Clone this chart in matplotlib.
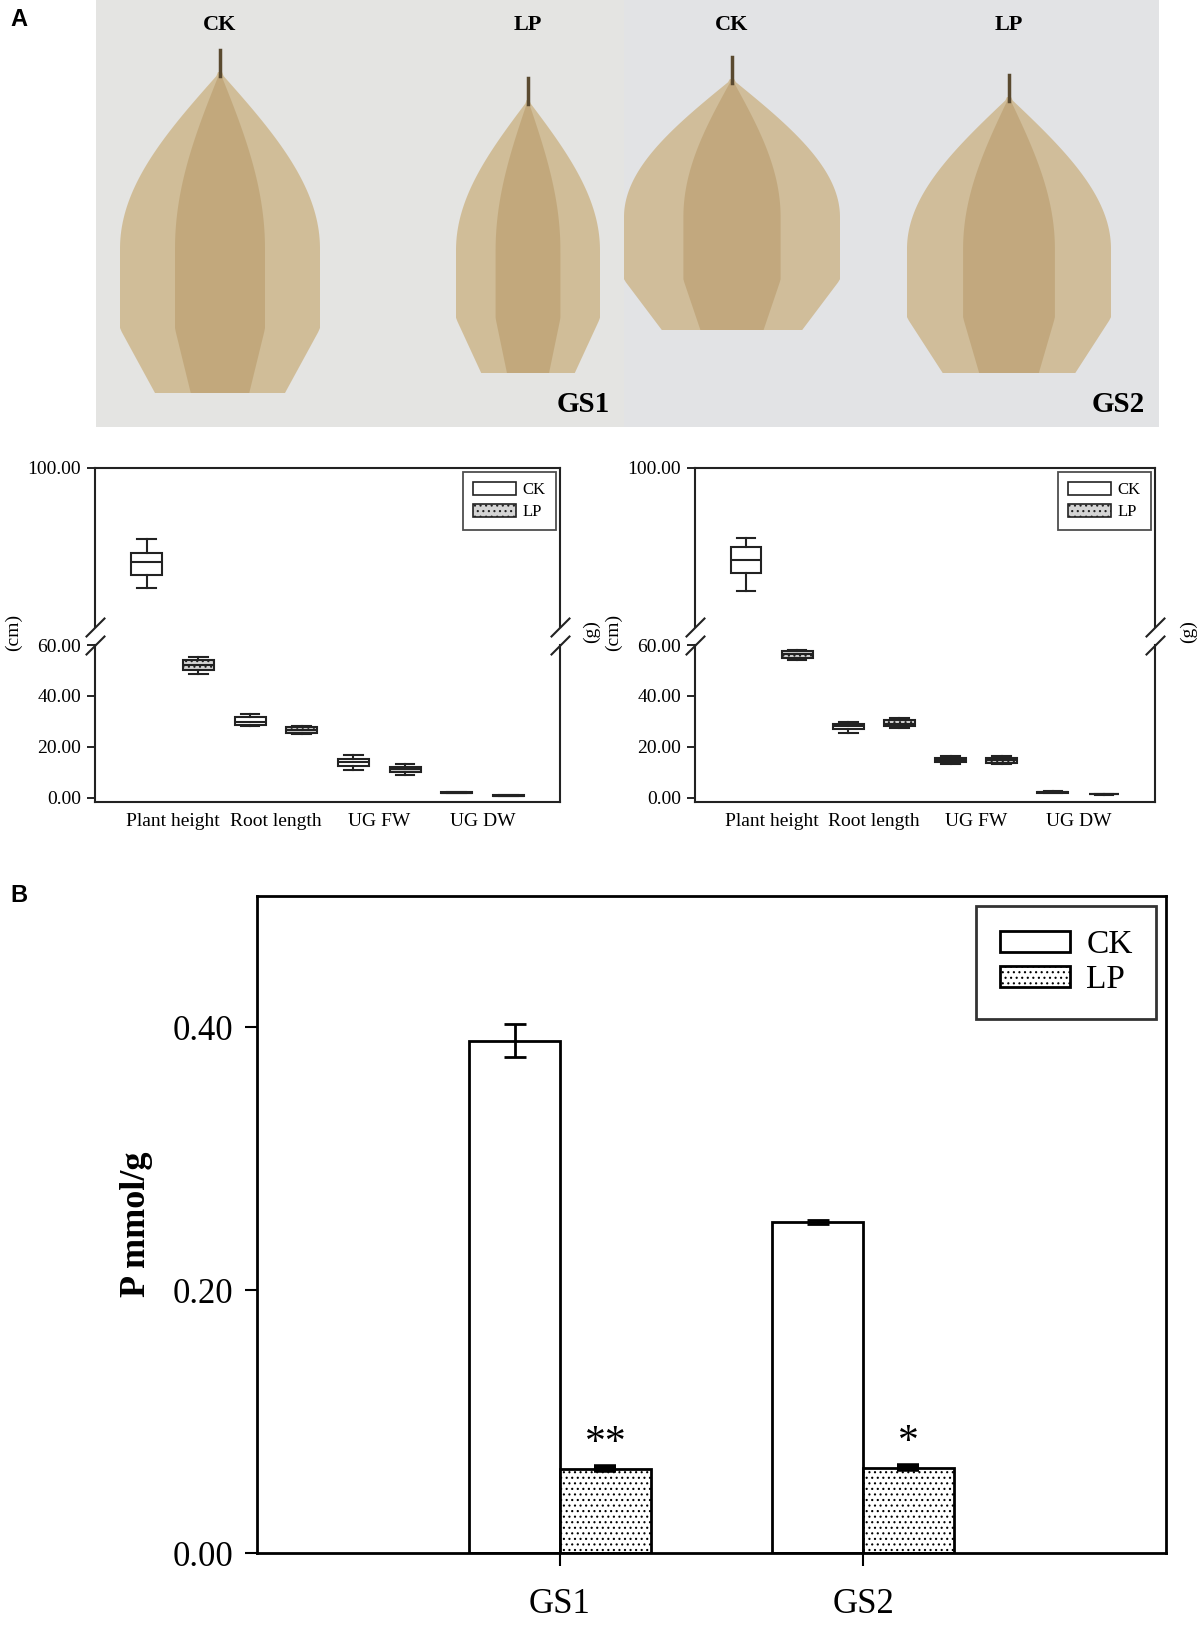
import numpy as np
import matplotlib.pyplot as plt
from matplotlib.patches import Patch

plt.rcParams['font.family'] = ['Liberation Serif', 'DejaVu Serif']
plt.rcParams['hatch.linewidth'] = 0.8

# ---- panel A box plots: (whisker low, q1, median, q3, whisker high) per trait
categories = ["Plant height", "Root length", "UG FW", "UG DW"]

gs1_ck_lo = [69.8, 28.2, 11.0, 1.8]
gs1_ck_q1 = [73.1, 28.5, 12.7, 2.0]
gs1_ck_med = [76.4, 29.9, 13.9, 2.1]
gs1_ck_q3 = [78.6, 31.6, 15.3, 2.2]
gs1_ck_hi = [82.1, 32.9, 16.9, 2.4]

gs1_lp_lo = [48.7, 25.1, 9.0, 0.7]
gs1_lp_q1 = [50.2, 25.4, 10.0, 0.8]
gs1_lp_med = [52.2, 26.7, 11.2, 0.9]
gs1_lp_q3 = [54.1, 28.0, 12.3, 1.0]
gs1_lp_hi = [55.1, 28.4, 13.3, 1.1]

gs2_ck_lo = [69.0, 25.6, 13.4, 1.9]
gs2_ck_q1 = [73.7, 27.2, 14.1, 2.0]
gs2_ck_med = [76.9, 28.1, 14.9, 2.2]
gs2_ck_q3 = [80.1, 29.0, 15.7, 2.4]
gs2_ck_hi = [82.3, 29.6, 16.3, 2.6]

gs2_lp_lo = [54.2, 27.3, 13.3, 1.3]
gs2_lp_q1 = [54.8, 28.1, 13.7, 1.4]
gs2_lp_med = [56.4, 29.1, 14.7, 1.5]
gs2_lp_q3 = [57.7, 30.4, 15.8, 1.6]
gs2_lp_hi = [58.1, 31.3, 16.5, 1.7]

lower_ticks = [0, 20, 40, 60]
upper_ticks = [100]

# ---- panel B bars
stages = ["GS1", "GS2"]
p_ck = [0.390, 0.252]
p_ck_err = [0.0125, 0.0015]
p_lp = [0.064, 0.065]
p_lp_err = [0.0012, 0.0012]
signif = ["**", "*"]

W, H = 1200, 1625
fig = plt.figure(figsize=(W / 100, H / 100), dpi=100)


def fig_rect(x0, y0, x1, y1):
    # pixel box (top-left origin) -> figure fraction rect
    return [x0 / W, 1 - y1 / H, (x1 - x0) / W, (y1 - y0) / H]


# ---- photo stand-ins (root photographs)
def root_blob(ax, xc, y_top, y_bot, half_w, col):
    t = np.linspace(0, 1, 80)
    w = half_w * np.clip(np.sin(np.pi / 2 * np.minimum(t / 0.55, 1.0)), 0.02, 1)
    w = w * (1 - 0.35 * np.clip((t - 0.8) / 0.2, 0, 1))
    y = y_top + 22 + t * (y_bot - y_top - 22)
    ax.fill(np.r_[xc - w, (xc + w)[::-1]], np.r_[y, y[::-1]], color=col, alpha=0.6, lw=0)
    ax.fill(np.r_[xc - 0.45 * w, (xc + 0.45 * w)[::-1]], np.r_[y, y[::-1]],
            color='#a8834a', alpha=0.35, lw=0)
    ax.plot([xc, xc], [y_top, y_top + 26], color='#5a4a30', lw=2.5)


photo_specs = [
    (96, 624, '#e4e4e2', [(220, 50, 393, 100), (528, 78, 373, 72)], "GS1"),
    (624, 1159, '#e2e3e5', [(732, 57, 330, 108), (1009, 75, 373, 102)], "GS2"),
]
for x0, x1, bg, roots, gs in photo_specs:
    axp = fig.add_axes(fig_rect(x0, 0, x1, 427))
    axp.set_facecolor(bg)
    axp.set_xlim(x0, x1)
    axp.set_ylim(427, 0)
    for xc, yt, yb, hw in roots:
        root_blob(axp, xc, yt, yb, hw, '#c4a468')
    axp.text(roots[0][0], 25, "CK", ha='center', va='center', fontsize=16, fontweight='bold')
    axp.text(roots[1][0], 25, "LP", ha='center', va='center', fontsize=16, fontweight='bold')
    axp.text(x1 - 14, 405, gs, ha='right', va='center', fontsize=21, fontweight='bold')
    axp.set_xticks([])
    axp.set_yticks([])
    for s in axp.spines.values():
        s.set_visible(False)


# ---- panel A box charts with broken y axis
def make_stats(lo, q1, med, q3, hi):
    return [dict(whislo=a, q1=b, med=c, q3=d, whishi=e, label="")
            for a, b, c, d, e in zip(lo, q1, med, q3, hi)]


def box_chart(x0, x1, ck, lp):
    ax_lo = fig.add_axes(fig_rect(x0, 645, x1, 802))
    ax_hi = fig.add_axes(fig_rect(x0, 468, x1, 627))
    pos = np.arange(1, len(categories) + 1)
    for ax in (ax_lo, ax_hi):
        ck_parts = ax.bxp(make_stats(*ck), positions=pos - 0.25, widths=0.3, capwidths=0.18,
                          patch_artist=True, showfliers=False, manage_ticks=False)
        lp_parts = ax.bxp(make_stats(*lp), positions=pos + 0.25, widths=0.3, capwidths=0.18,
                          patch_artist=True, showfliers=False, manage_ticks=False)
        for b in ck_parts['boxes']:
            b.set(facecolor='white', edgecolor='#222222', lw=1.5)
        for b in lp_parts['boxes']:
            b.set(facecolor='#d4d4d4', edgecolor='#222222', lw=1.5, hatch='...')
        for parts in (ck_parts, lp_parts):
            for k in ('whiskers', 'caps', 'medians'):
                for ln in parts[k]:
                    ln.set(color='#222222', lw=1.5)
        ax.set_xlim(0.25, 4.75)
        for s in ax.spines.values():
            s.set_linewidth(1.5)
            s.set_color('#222222')
        ax.tick_params(axis='y', direction='out', length=6, width=1.2, labelsize=14, pad=4)
        ax.yaxis.set_major_formatter(plt.FormatStrFormatter('%.2f'))

    ax_lo.set_ylim(-1.6, 60)
    ax_lo.set_yticks(lower_ticks)
    ax_lo.spines['top'].set_visible(False)
    ax_lo.set_xticks(pos)
    ax_lo.set_xticklabels(categories, fontsize=14)
    ax_lo.tick_params(axis='x', length=0, pad=8)

    ax_hi.set_ylim(60, 100)
    ax_hi.set_yticks(upper_ticks)
    ax_hi.spines['bottom'].set_visible(False)
    ax_hi.set_xticks([])

    kw = dict(marker=[(-1, -1), (1, 1)], markersize=14, linestyle='none', color='#222222',
              mec='#222222', mew=1.5, clip_on=False)
    ax_lo.plot([0, 1], [1, 1], transform=ax_lo.transAxes, **kw)
    ax_hi.plot([0, 1], [0, 0], transform=ax_hi.transAxes, **kw)

    leg = ax_hi.legend(handles=[Patch(facecolor='white', edgecolor='#222222', lw=1.2, label='CK'),
                                Patch(facecolor='#d4d4d4', edgecolor='#222222', lw=1.2,
                                      hatch='...', label='LP')],
                       loc='upper right', fontsize=12, frameon=True, fancybox=False,
                       borderaxespad=0.25, handlelength=2.6, handleheight=0.8,
                       handletextpad=0.4, labelspacing=0.35, borderpad=0.6)
    leg.get_frame().set_edgecolor('#222222')
    leg.get_frame().set_linewidth(1.3)
    return ax_lo, ax_hi


box_chart(95, 560,
          (gs1_ck_lo, gs1_ck_q1, gs1_ck_med, gs1_ck_q3, gs1_ck_hi),
          (gs1_lp_lo, gs1_lp_q1, gs1_lp_med, gs1_lp_q3, gs1_lp_hi))
box_chart(695, 1155,
          (gs2_ck_lo, gs2_ck_q1, gs2_ck_med, gs2_ck_q3, gs2_ck_hi),
          (gs2_lp_lo, gs2_lp_q1, gs2_lp_med, gs2_lp_q3, gs2_lp_hi))

for xp, lab in [(13, "(cm)"), (591, "(g)"), (613, "(cm)"), (1188, "(g)")]:
    fig.text(xp / W, 1 - 632 / H, lab, rotation=90, ha='center', va='center', fontsize=14)

# ---- panel B bar chart
axb = fig.add_axes(fig_rect(257, 896, 1166, 1553))
x = np.arange(1, len(stages) + 1)
bw = 0.3
axb.bar(x - bw / 2, p_ck, bw, facecolor='white', edgecolor='black', lw=2,
        yerr=p_ck_err, capsize=8, error_kw=dict(elinewidth=2, capthick=2, ecolor='black'),
        label='CK', zorder=2)
axb.bar(x + bw / 2, p_lp, bw, facecolor='white', edgecolor='black', lw=2, hatch='...',
        yerr=p_lp_err, capsize=8, error_kw=dict(elinewidth=2, capthick=4, ecolor='black'),
        label='LP', zorder=2)
for xi, v, e, s in zip(x + bw / 2, p_lp, p_lp_err, signif):
    axb.text(xi, v + e + 0.003, s, ha='center', va='bottom', fontsize=30)

axb.set_xlim(0, 3)
axb.set_ylim(0, 0.5)
axb.set_yticks([0, 0.2, 0.4])
axb.yaxis.set_major_formatter(plt.FormatStrFormatter('%.2f'))
axb.set_xticks(x)
axb.set_xticklabels(stages)
axb.tick_params(axis='both', direction='out', length=9, width=1.5, labelsize=25)
axb.tick_params(axis='x', pad=16)
axb.tick_params(axis='y', pad=8)
for s in axb.spines.values():
    s.set_linewidth(2)
axb.set_ylabel("P mmol/g", fontsize=26, fontweight='bold', labelpad=14)

legb = axb.legend(loc='upper right', fontsize=24, frameon=True, fancybox=False,
                  borderaxespad=0.3, handlelength=2.1, handleheight=0.6,
                  handletextpad=0.5, labelspacing=0.15, borderpad=0.7)
legb.get_frame().set_edgecolor('black')
legb.get_frame().set_linewidth(2)

fig.text(19 / W, 1 - 19 / H, "A", fontsize=17, fontweight='bold', family='Liberation Sans',
         ha='center', va='center')
fig.text(19 / W, 1 - 896 / H, "B", fontsize=17, fontweight='bold', family='Liberation Sans',
         ha='center', va='center')

fig.savefig("out.png", dpi=100)
